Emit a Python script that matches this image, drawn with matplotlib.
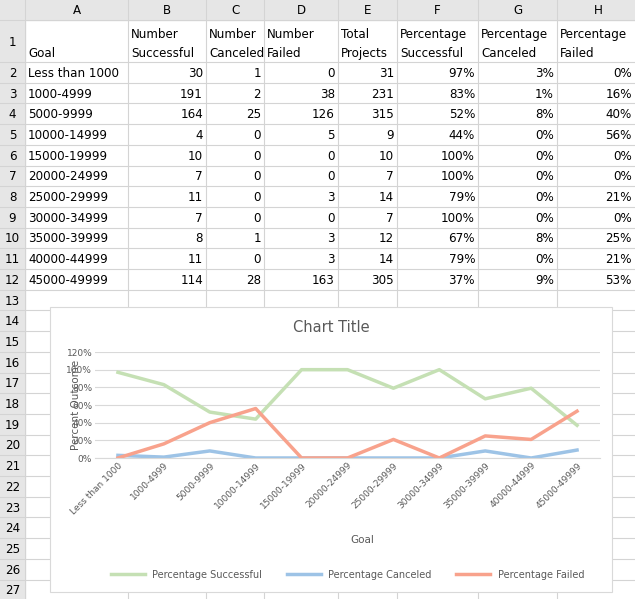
import matplotlib.pyplot as plt
from matplotlib.patches import Rectangle
from matplotlib.ticker import PercentFormatter

goals = ["Less than 1000", "1000-4999", "5000-9999", "10000-14999", "15000-19999",
         "20000-24999", "25000-29999", "30000-34999", "35000-39999", "40000-44999",
         "45000-49999"]
n_success = [30, 191, 164, 4, 10, 7, 11, 7, 8, 11, 114]
n_canceled = [1, 2, 25, 0, 0, 0, 0, 0, 1, 0, 28]
n_failed = [0, 38, 126, 5, 0, 0, 3, 0, 3, 3, 163]
n_total = [31, 231, 315, 9, 10, 7, 14, 7, 12, 14, 305]
pct_success = [97, 83, 52, 44, 100, 100, 79, 100, 67, 79, 37]
pct_canceled = [3, 1, 8, 0, 0, 0, 0, 0, 8, 0, 9]
pct_failed = [0, 16, 40, 56, 0, 0, 21, 0, 25, 21, 53]

col_letters = ["A", "B", "C", "D", "E", "F", "G", "H"]
col_edges = [25, 128, 206, 264, 338, 397, 478, 557, 640]
headers = ["Goal", "Number\nSuccessful", "Number\nCanceled", "Number\nFailed",
           "Total\nProjects", "Percentage\nSuccessful", "Percentage\nCanceled",
           "Percentage\nFailed"]

W, H = 635, 599
fig = plt.figure(figsize=(W / 100, H / 100), dpi=100)
sheet = fig.add_axes([0, 0, 1, 1])
sheet.set_xlim(0, W)
sheet.set_ylim(H, 0)
sheet.axis("off")

grid_c = "#d4d4d4"
hdr_bg = "#e6e6e6"
font = "DejaVu Sans"
fs = 8.6

# row boundaries
top_hdr = 20
row1_bottom = 62
rh = 20.7
row_edges = [top_hdr, row1_bottom] + [row1_bottom + rh * i for i in range(1, 27)]

# headers background
sheet.add_patch(Rectangle((0, 0), W, top_hdr, color=hdr_bg, zorder=0))
sheet.add_patch(Rectangle((0, 0), col_edges[0], H, color=hdr_bg, zorder=0))
for x in col_edges:
    sheet.plot([x, x], [0, H], color=grid_c, lw=0.8, zorder=1)
for y in row_edges:
    sheet.plot([0, W], [y, y], color=grid_c, lw=0.8, zorder=1)
for i, letter in enumerate(col_letters):
    sheet.text((col_edges[i] + col_edges[i + 1]) / 2, top_hdr / 2, letter,
               ha="center", va="center", fontsize=fs, family=font)
for r in range(1, 28):
    y0, y1 = row_edges[r - 1], row_edges[r]
    sheet.text(col_edges[0] / 2, (y0 + y1) / 2 + 1, str(r), ha="center", va="center",
               fontsize=fs, family=font)

# header row text
for i, h in enumerate(headers):
    sheet.text(col_edges[i] + 3, row1_bottom - 2, h, ha="left", va="bottom",
               fontsize=fs, family=font, linespacing=1.6)

columns = [n_success, n_canceled, n_failed, n_total]
for k, g in enumerate(goals):
    y0, y1 = row_edges[k + 1], row_edges[k + 2]
    yc = (y0 + y1) / 2 + 1
    sheet.text(col_edges[0] + 3, yc, g, ha="left", va="center", fontsize=fs, family=font)
    vals = [str(c[k]) for c in columns] + [f"{pct_success[k]}%", f"{pct_canceled[k]}%",
                                           f"{pct_failed[k]}%"]
    for j, v in enumerate(vals):
        right = min(col_edges[j + 2], W) - 3
        sheet.text(right, yc, v, ha="right", va="center", fontsize=fs, family=font)

# chart box
sheet.add_patch(Rectangle((50, 307), 562, 285, facecolor="white", edgecolor="#d9d9d9",
                          lw=0.8, zorder=3))
sheet.text(331, 328, "Chart Title", ha="center", va="center", fontsize=10.5,
           color="#595959", family=font, zorder=4)
sheet.text(362, 540, "Goal", ha="center", va="center", fontsize=7.5, color="#595959",
           family=font, zorder=4)
sheet.text(76, 405, "Percent Outcome", ha="center", va="center", rotation=90,
           fontsize=7.5, color="#595959", family=font, zorder=4)

ax = fig.add_axes([95 / W, 1 - 458 / H, 505 / W, 106 / H], zorder=5)
ax.patch.set_alpha(0)
x = list(range(len(goals)))
ax.plot(x, pct_success, color="#c5e0b4", lw=2.5, label="Percentage Successful")
ax.plot(x, pct_canceled, color="#9dc3e6", lw=2.5, label="Percentage Canceled")
ax.plot(x, pct_failed, color="#f8a28c", lw=2.5, label="Percentage Failed")
ax.set_xlim(-0.5, len(goals) - 0.5)
ax.set_ylim(0, 120)
ax.set_yticks(range(0, 121, 20))
ax.yaxis.set_major_formatter(PercentFormatter(decimals=0))
ax.grid(axis="y", color="#d9d9d9", lw=0.8)
ax.set_axisbelow(True)
for s in ["top", "right", "left"]:
    ax.spines[s].set_visible(False)
ax.spines["bottom"].set_color("#d9d9d9")
ax.tick_params(length=0, labelsize=6.5, colors="#595959", pad=2)
ax.set_xticks(x)
ax.set_xticklabels(goals, rotation=45, ha="right", rotation_mode="anchor")
ax.legend(loc="center", bbox_to_anchor=(0.5, -1.1), ncol=3, frameon=False,
          fontsize=7, labelcolor="#595959", handlelength=3.5, columnspacing=2.5)

fig.savefig("out.png", dpi=100)
